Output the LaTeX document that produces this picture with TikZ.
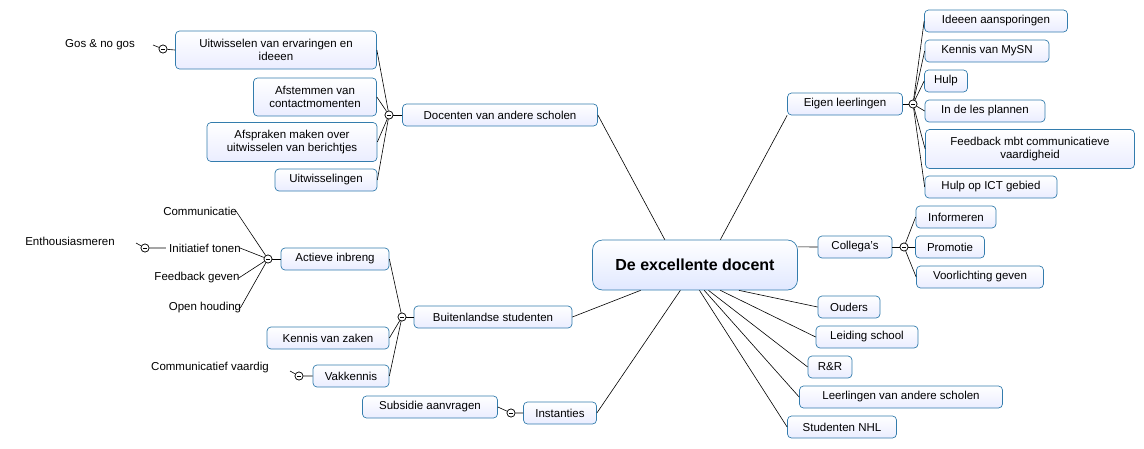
\documentclass[tikz,border=0pt]{standalone}
\usepackage{fontspec}
\setmainfont{Liberation Sans}
\begin{document}
\begin{tikzpicture}[x=1pt,y=-1pt,
  every node/.style={font=\fontsize{11.5}{13}\selectfont},
  box/.style={draw=blue!40!cyan!60!black!80, rounded corners=4pt, top color=white, bottom color=cyan!12!blue!8, line width=0.7pt, inner sep=0pt, minimum height=22pt, align=center},
  big/.style={box, rounded corners=10pt, top color=white, bottom color=cyan!25!blue!12, font=\fontsize{16}{19}\selectfont\bfseries},
  col/.style={draw, circle, inner sep=0pt, minimum size=8pt, fill=white, line width=0.6pt,
    path picture={\draw (path picture bounding box.west) ++(2pt,0) -- ++(4pt,0);}},
  txt/.style={inner sep=1pt},
  ln/.style={line width=0.6pt}]
\useasboundingbox (0,0) rectangle (1144,448);
\node[big, minimum width=205pt, minimum height=50pt] (c) at (695,265) {De excellente docent};
% Docenten
\node[box, minimum width=195pt] (doc) at (500,115) {Docenten van andere scholen};
\node[col] (cdoc) at (389,115) {};
\node[box, minimum width=201pt, minimum height=38pt] (uit) at (276,50) {Uitwisselen van ervaringen en\\ideeen};
\node[col] (cuit) at (163,49) {};
\node[txt] (gos) at (100,45) {Gos \& no gos};
\node[box, minimum width=123pt, minimum height=38pt] (afst) at (315,97) {Afstemmen van\\contactmomenten};
\node[box, minimum width=170pt, minimum height=39pt] (afsp) at (292,142) {Afspraken maken over\\uitwisselen van berichtjes};
\node[box, minimum width=102pt] (uitw) at (326,180) {Uitwisselingen};
% Buitenlandse
\node[box, minimum width=158pt] (bui) at (493,317) {Buitenlandse studenten};
\node[col] (cbui) at (402,317) {};
\node[box, minimum width=108pt] (act) at (335,259) {Actieve inbreng};
\node[col] (cact) at (268,259) {};
\node[txt] (com) at (200,211) {Communicatie};
\node[txt] (ini) at (205,248) {Initiatief tonen};
\node[col] (cini) at (145,248) {};
\node[txt] (ent) at (70,241) {Enthousiasmeren};
\node[txt] (fee) at (197,278) {Feedback geven};
\node[txt] (ope) at (205,308) {Open houding};
\node[box, minimum width=122pt] (ken) at (328,338) {Kennis van zaken};
\node[box, minimum width=76pt] (vak) at (351,376) {Vakkennis};
\node[col] (cvak) at (299,376) {};
\node[txt] (cv) at (210,368) {Communicatief vaardig};
% Instanties
\node[box, minimum width=73pt] (ins) at (560,413) {Instanties};
\node[col] (cins) at (511,413) {};
\node[box, minimum width=135pt] (sub) at (430,407) {Subsidie aanvragen};
% Eigen leerlingen
\node[box, minimum width=115pt] (eig) at (845,104) {Eigen leerlingen};
\node[col] (ceig) at (913,104) {};
\node[box, minimum width=143pt] (e1) at (996,21) {Ideeen aansporingen};
\node[box, minimum width=124pt] (e2) at (987,51) {Kennis van MySN};
\node[box, minimum width=43pt] (e3) at (946,81) {Hulp};
\node[box, minimum width=120pt] (e4) at (985,111) {In de les plannen};
\node[box, minimum width=209pt, minimum height=39pt] (e5) at (1030,149) {Feedback mbt communicatieve\\vaardigheid};
\node[box, minimum width=132pt] (e6) at (991,187) {Hulp op ICT gebied};
% Collega's
\node[box, minimum width=74pt] (col) at (855,247) {Collega's};
\node[col] (ccol) at (904,247) {};
\node[box, minimum width=80pt] (k1) at (956,217) {Informeren};
\node[box, minimum width=69pt] (k2) at (950,247) {Promotie};
\node[box, minimum width=127pt] (k3) at (980,277) {Voorlichting geven};
% others
\node[box, minimum width=62pt] (oud) at (849,307) {Ouders};
\node[box, minimum width=102pt] (lei) at (867,337) {Leiding school};
\node[box, minimum width=44pt] (rr) at (830,367) {R\&R};
\node[box, minimum width=203pt] (lee) at (901,397) {Leerlingen van andere scholen};
\node[box, minimum width=109pt] (stu) at (842,427) {Studenten NHL};
% connectors from centre
\begin{scope}[ln]
\draw (c.140) -- (doc.east);
\draw (c.205) -- (bui.east);
\draw (c.240) -- (ins.east);
\draw (c.45) -- (eig.south west);
\draw (c.10) -- (col.west);
\draw (c.-30) -- (oud.west);
\draw (c.-45) -- (lei.west);
\draw (c.-62) -- (rr.west);
\draw (c.-70) -- (lee.west);
\draw (c.-80) -- (stu.west);
% Docenten
\draw (doc.west) -- (cdoc);
\draw (cdoc) -- (uit.east); \draw (cdoc) -- (afst.east); \draw (cdoc) -- (afsp.east); \draw (cdoc) -- (uitw.east);
\draw (uit.west) -- (cuit) -- ++(-10,-4);
% Buitenlandse
\draw (bui.west) -- (cbui);
\draw (cbui) -- (act.east); \draw (cbui) -- (ken.east); \draw (cbui) -- (vak.east);
\draw (act.west) -- (cact);
\draw (cact) -- ([xshift=-2pt]com.east); \draw (cact) -- ([xshift=-2pt]ini.east);
\draw (cact) -- ([xshift=-2pt]fee.east); \draw (cact) -- ([xshift=-2pt]ope.east);
\draw ([xshift=-2pt]ini.west) -- (cini) -- ++(-9,-5);
\draw (vak.west) -- (cvak) -- ++(-9,-5);
% Instanties
\draw (ins.west) -- (cins) -- (sub.east);
% Eigen
\draw (eig.east) -- (ceig);
\foreach \n in {e1,e2,e3,e4,e5,e6} \draw (ceig) -- (\n.west);
% Collega's
\draw (col.east) -- (ccol);
\foreach \n in {k1,k2,k3} \draw (ccol) -- (\n.west);
\end{scope}
\foreach \n in {cdoc,cuit,cbui,cact,cini,cvak,cins,ceig,ccol} \node[col] at (\n) {};
\end{tikzpicture}
\end{document}
